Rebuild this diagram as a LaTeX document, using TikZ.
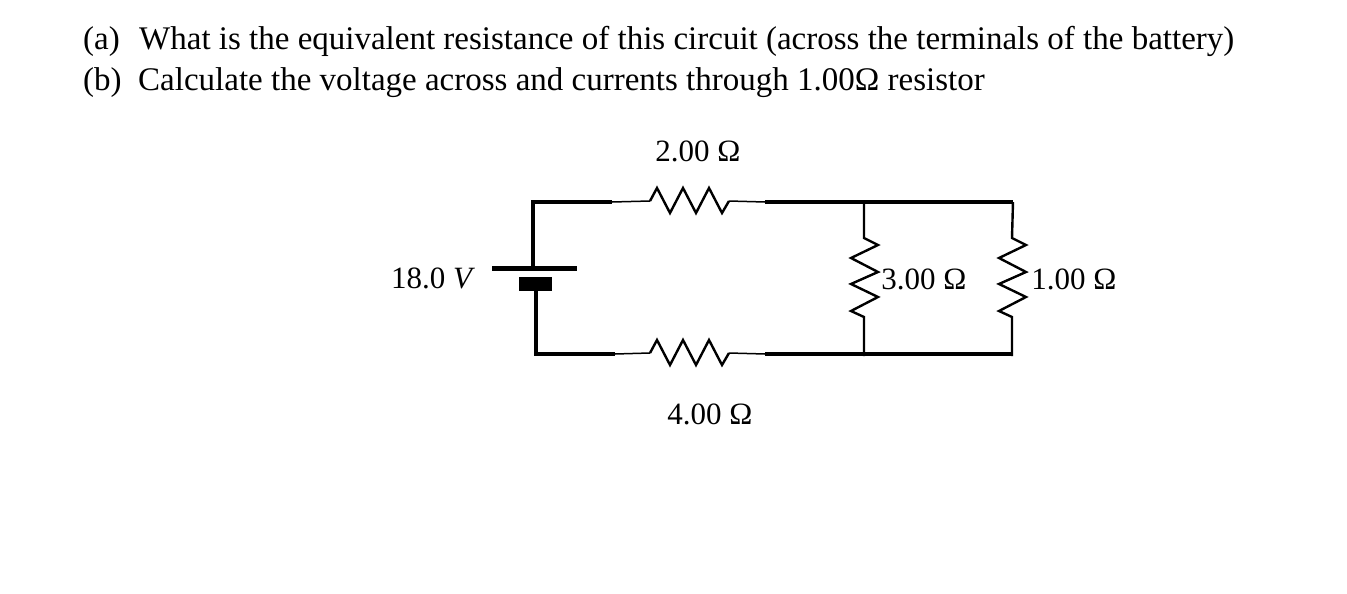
\documentclass[tikz,border=0pt]{standalone}
\usepackage{fontspec}
\setmainfont{Liberation Serif}
\tikzset{
  qtext/.style={anchor=base west,inner sep=0pt,font=\fontsize{33}{36}\selectfont},
  rlabel/.style={inner sep=0pt,font=\fontsize{31}{34}\selectfont},
  thick wire/.style={line width=4.5pt,line cap=butt,line join=miter},
  thin wire/.style={line width=1.5pt},
  zig/.style={line width=2.4pt,line join=miter}
}
\begin{document}
\begin{tikzpicture}[x=1pt,y=-1pt]
\useasboundingbox (0,0) rectangle (1347,594);
% question
\node[qtext] (qa) at (83,50) {(a)};
\node[qtext] (qat) at (139,50) {What is the equivalent resistance of this circuit (across the terminals of the battery)};
\node[qtext] (qb) at (83,91) {(b)};
\node[qtext] (qbt) at (138,91) {Calculate the voltage across and currents through 1.00Ω resistor};
% labels
\node[rlabel] (l2) at (698,151) {2.00 Ω};
\node[rlabel] (l4) at (710,414) {4.00 Ω};
\node[rlabel] (lv) at (433,278) {18.0 \textit{V}};
\node[rlabel] (l3) at (924,279) {3.00 Ω};
\node[rlabel] (l1) at (1074,279) {1.00 Ω};
% battery
\coordinate (pl) at (492,268);
\coordinate (pr) at (577,268);
\coordinate (pt) at (533,268);
\node[fill=black,minimum width=33pt,minimum height=14pt,inner sep=0pt] (neg) at (535,283.5) {};
\coordinate (nb) at (536,290);
\draw[line width=5pt] (pl) -- (pr);
% corners and junctions
\coordinate (tl) at (533,202);
\coordinate (bl) at (536,354);
\coordinate (tj) at (864,202);
\coordinate (bj) at (864,354);
\coordinate (tr) at (1013,202);
\coordinate (br) at (1013,354);
\coordinate (a1) at (612,202);
\coordinate (a2) at (765,202);
\coordinate (b1) at (615,354);
\coordinate (b2) at (765,354);
\coordinate (a3) at (650,201);
\coordinate (a4) at (729,201);
\coordinate (b3) at (650,353);
\coordinate (b4) at (729,353);
% left and main wires
\draw[thick wire] (pt) -- (tl) -- (a1);
\draw[thick wire] (nb) -- (bl) -- (b1);
\draw[thick wire] (a2) -- (tr);
\draw[thick wire] (b2) -- (br);
% series resistors
\draw[thin wire] (a1) -- (a3);
\draw[zig] (a3) -- (657,188) -- (670,213) -- (683,188) -- (696,213) -- (709,188) -- (722,213) -- (a4);
\draw[thin wire] (a4) -- (a2);
\draw[thin wire] (b1) -- (b3);
\draw[zig] (b3) -- (657,340) -- (670,365) -- (683,340) -- (696,365) -- (709,340) -- (722,365) -- (b4);
\draw[thin wire] (b4) -- (b2);
% parallel resistors
\draw[zig] (tj) -- (864,238) -- (878,245) -- (851,258) -- (878,272) -- (851,284) -- (878,297) -- (851,311) -- (864,317) -- (864,356);
\draw[zig] (tr) -- (1012,238) -- (1026,245) -- (999,258) -- (1026,272) -- (999,284) -- (1026,297) -- (999,311) -- (1012,317) -- (1012,356);
\end{tikzpicture}
\end{document}
